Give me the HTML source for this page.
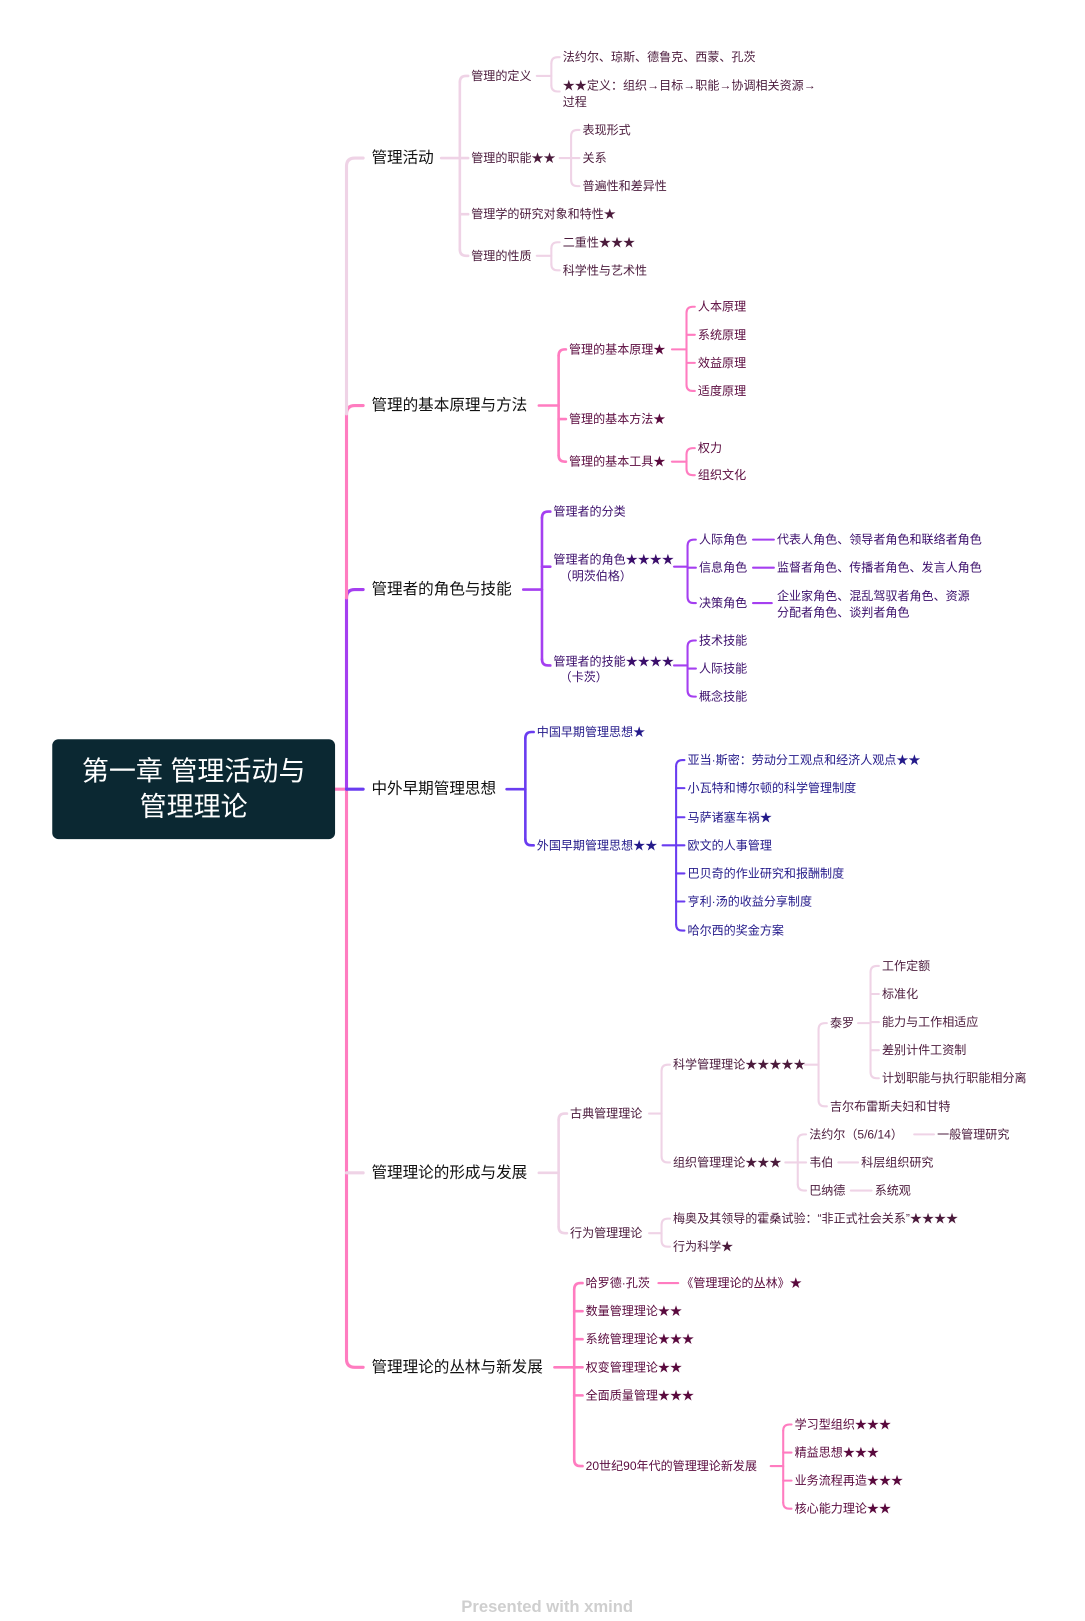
<!DOCTYPE html>
<html><head><meta charset="utf-8">
<style>
html,body{margin:0;padding:0;background:#fff;}
svg{display:block;}
text{font-family:"Liberation Sans","Noto Sans CJK SC",sans-serif;dominant-baseline:central;}
.m{font-size:15px;fill:#111;}
.s{font-size:11.6px;}
.a{fill:#4b1b3c}.b{fill:#5a0a3e}.c{fill:#3b0e6b}.d{fill:#241a8a}
</style></head><body>
<svg id="g" width="1085" height="1621" viewBox="0 0 1043 1559" xmlns="http://www.w3.org/2000/svg">
<g id="lines" fill="none" stroke-linecap="round"></g>
<rect x="50" y="711" width="272" height="96" rx="6" fill="#0b2832"/>
<text x="186" y="742" text-anchor="middle" style="font-size:26px" fill="#fff">第一章 管理活动与</text>
<text x="186" y="776" text-anchor="middle" style="font-size:26px" fill="#fff">管理理论</text>

<text class="m" x="357" y="152">管理活动</text>
<text class="m" x="357" y="390">管理的基本原理与方法</text>
<text class="m" x="357" y="567">管理者的角色与技能</text>
<text class="m" x="357" y="759">中外早期管理思想</text>
<text class="m" x="357" y="1128">管理理论的形成与发展</text>
<text class="m" x="357" y="1315">管理理论的丛林与新发展</text>

<g class="s a">
<text x="453" y="73">管理的定义</text>
<text x="453" y="152">管理的职能★★</text>
<text x="453" y="206">管理学的研究对象和特性★</text>
<text x="453" y="246">管理的性质</text>
<text x="541" y="55">法约尔、琼斯、德鲁克、西蒙、孔茨</text>
<text x="541" y="82">★★定义：组织→目标→职能→协调相关资源→</text>
<text x="541" y="98">过程</text>
<text x="560" y="125">表现形式</text>
<text x="560" y="152">关系</text>
<text x="560" y="179">普遍性和差异性</text>
<text x="541" y="233">二重性★★★</text>
<text x="541" y="260">科学性与艺术性</text>
</g>

<g class="s b">
<text x="547" y="336">管理的基本原理★</text>
<text x="547" y="403">管理的基本方法★</text>
<text x="547" y="444">管理的基本工具★</text>
<text x="671" y="295">人本原理</text>
<text x="671" y="322">系统原理</text>
<text x="671" y="349">效益原理</text>
<text x="671" y="376">适度原理</text>
<text x="671" y="431">权力</text>
<text x="671" y="457">组织文化</text>
</g>

<g class="s c">
<text x="532" y="492">管理者的分类</text>
<text x="532" y="538">管理者的角色★★★★</text>
<text x="538" y="554">（明茨伯格）</text>
<text x="532" y="636">管理者的技能★★★★</text>
<text x="538" y="651">（卡茨）</text>
<text x="672" y="519">人际角色</text>
<text x="672" y="546">信息角色</text>
<text x="672" y="580">决策角色</text>
<text x="747" y="519">代表人角色、领导者角色和联络者角色</text>
<text x="747" y="546">监督者角色、传播者角色、发言人角色</text>
<text x="747" y="573">企业家角色、混乱驾驭者角色、资源</text>
<text x="747" y="589">分配者角色、谈判者角色</text>
<text x="672" y="616">技术技能</text>
<text x="672" y="643">人际技能</text>
<text x="672" y="670">概念技能</text>
</g>

<g class="s d">
<text x="516" y="704">中国早期管理思想★</text>
<text x="516" y="813">外国早期管理思想★★</text>
<text x="661" y="731">亚当·斯密：劳动分工观点和经济人观点★★</text>
<text x="661" y="758">小瓦特和博尔顿的科学管理制度</text>
<text x="661" y="786">马萨诸塞车祸★</text>
<text x="661" y="813">欧文的人事管理</text>
<text x="661" y="840">巴贝奇的作业研究和报酬制度</text>
<text x="661" y="867">亨利·汤的收益分享制度</text>
<text x="661" y="895">哈尔西的奖金方案</text>
</g>

<g class="s a">
<text x="548" y="1071">古典管理理论</text>
<text x="548" y="1186">行为管理理论</text>
<text x="647" y="1024">科学管理理论★★★★★</text>
<text x="647" y="1118">组织管理理论★★★</text>
<text x="798" y="984">泰罗</text>
<text x="798" y="1064">吉尔布雷斯夫妇和甘特</text>
<text x="848" y="929">工作定额</text>
<text x="848" y="956">标准化</text>
<text x="848" y="983">能力与工作相适应</text>
<text x="848" y="1010">差别计件工资制</text>
<text x="848" y="1037">计划职能与执行职能相分离</text>
<text x="778" y="1091">法约尔（5/6/14）</text>
<text x="901" y="1091">一般管理研究</text>
<text x="778" y="1118">韦伯</text>
<text x="828" y="1118">科层组织研究</text>
<text x="778" y="1145">巴纳德</text>
<text x="841" y="1145">系统观</text>
<text x="647" y="1172">梅奥及其领导的霍桑试验：“非正式社会关系”★★★★</text>
<text x="647" y="1199">行为科学★</text>
</g>

<g class="s b">
<text x="563" y="1234">哈罗德·孔茨</text>
<text x="655" y="1234">《管理理论的丛林》★</text>
<text x="563" y="1261">数量管理理论★★</text>
<text x="563" y="1288">系统管理理论★★★</text>
<text x="563" y="1315">权变管理理论★★</text>
<text x="563" y="1342">全面质量管理★★★</text>
<text x="563" y="1410">20世纪90年代的管理理论新发展</text>
<text x="764" y="1370">学习型组织★★★</text>
<text x="764" y="1397">精益思想★★★</text>
<text x="764" y="1424">业务流程再造★★★</text>
<text x="764" y="1451">核心能力理论★★</text>
</g>

<text x="526" y="1545" text-anchor="middle" style="font-size:16px;font-weight:bold" fill="#cfcfcf">Presented with xmind</text>
</svg>
<script>
var L=document.getElementById('lines'),NS='http://www.w3.org/2000/svg';
function p(d,c,w){var e=document.createElementNS(NS,'path');e.setAttribute('d',d);e.setAttribute('stroke',c);e.setAttribute('stroke-width',w);L.appendChild(e);}
function grp(px,py,vx,ys,cx,c,w){
 var r=6,t=Math.min.apply(null,ys),b=Math.max.apply(null,ys);
 p('M'+px+','+py+'H'+vx,c,w);
 if(b-t>0)p('M'+vx+','+(t+r)+'V'+(b-r),c,w);
 ys.forEach(function(y){
  if(y==t&&b>t)p('M'+vx+','+(y+r)+'Q'+vx+','+y+' '+(vx+r)+','+y+'H'+cx,c,w);
  else if(y==b&&b>t)p('M'+vx+','+(y-r)+'Q'+vx+','+y+' '+(vx+r)+','+y+'H'+cx,c,w);
  else p('M'+vx+','+y+'H'+cx,c,w);
 });
}
function ln(x1,x2,y,c,w){p('M'+x1+','+y+'H'+x2,c,w);}
var LP='#efd3e6',PK='#ff7cc0',PU='#a53ff0',BL='#6a3cf0';
p('M322,759H333',PK,3);
p('M333,759V1307Q333,1315 341,1315H349',PK,3);
p('M333,1128H349',LP,3);
p('M333,759V575Q333,567 341,567H349',PU,3);
p('M333,575V398Q333,390 341,390H349',PK,3);
p('M333,398V160Q333,152 341,152H349',LP,3);
p('M333,759H349',BL,3);
grp(424,152,442,[73,152,206,246],450,LP,2.5);
grp(516,73,530,[55,88],538,LP,2);
grp(538,152,549,[125,152,179],557,LP,2);
grp(516,246,530,[233,260],538,LP,2);
grp(518,390,537,[336,403,444],544,PK,2.5);
grp(646,336,660,[295,322,349,376],668,PK,2);
grp(646,444,660,[431,457],668,PK,2);
grp(503,567,521,[492,545,640],529,PU,2.5);
grp(648,545,661,[519,546,580],669,PU,2);
ln(724,744,519,PU,2);ln(724,744,546,PU,2);ln(724,742,580,PU,2);
grp(648,640,661,[616,643,670],669,PU,2);
grp(487,759,505,[704,813],513,BL,2.5);
grp(637,813,650,[731,758,786,813,840,867,895],658,BL,2);
grp(518,1128,537,[1071,1186],545,LP,2.5);
grp(624,1071,636,[1024,1118],644,LP,2);
grp(774,1024,787,[984,1064],795,LP,2);
grp(825,984,837,[929,956,983,1010,1037],845,LP,2);
grp(755,1118,767,[1091,1118,1145],775,LP,2);
ln(879,898,1091,LP,2);ln(806,825,1118,LP,2);ln(818,838,1145,LP,2);
grp(624,1186,636,[1172,1199],644,LP,2);
grp(533,1315,552,[1234,1261,1288,1315,1342,1410],560,PK,2.5);
ln(633,652,1234,PK,2);
grp(741,1410,753,[1370,1397,1424,1451],761,PK,2);
</script>
</body></html>
